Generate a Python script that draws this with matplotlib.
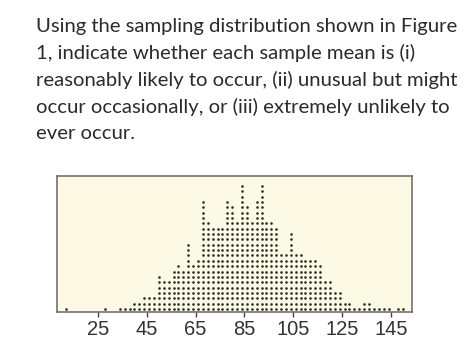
import matplotlib
matplotlib.use("Agg")
import matplotlib.pyplot as plt
import numpy as np

# Dotplot data: column value -> number of stacked dots
values = [12, 28, 34, 36, 38, 40, 42, 44, 46, 48, 50, 52, 54, 56, 58, 60, 62, 64, 66,
          68, 70, 72, 74, 76, 78, 80, 82, 84, 86, 88, 90, 92, 94, 96, 98, 100, 102,
          104, 106, 108, 110, 112, 114, 116, 118, 120, 122, 124, 126, 128, 130, 132,
          134, 136, 138, 140, 142, 144, 148, 150]
counts = [1, 1, 1, 1, 1, 2, 2, 3, 3, 3, 7, 6, 6, 8, 9, 8, 13, 9, 10,
          21, 17, 16, 16, 16, 21, 20, 17, 24, 20, 17, 21, 24, 17, 17, 16, 11, 11,
          15, 11, 11, 10, 10, 10, 9, 6, 6, 4, 4, 2, 2, 1, 1,
          2, 2, 1, 1, 1, 1, 1, 1]
tick_values = [25, 45, 65, 85, 105, 125, 145]

question = ("Using the sampling distribution shown in Figure\n"
            "1, indicate whether each sample mean is (i)\n"
            "reasonably likely to occur, (ii) unusual but might\n"
            "occur occasionally, or (iii) extremely unlikely to\n"
            "ever occur.")

fig = plt.figure(figsize=(4.74, 3.46), dpi=100)
fig.patch.set_facecolor("white")

fig.text(36 / 474, 1 - 18 / 346, question, ha="left", va="top",
         fontsize=14.6, family="Lato", color="#2b2b2b", linespacing=1.6)

ax = fig.add_axes([56.7 / 474, 34.5 / 346, (412.3 - 56.7) / 474, (311.5 - 176) / 346])
ax.set_facecolor("#FCF9E4")

xs, ys = [], []
for v, c in zip(values, counts):
    for k in range(c):
        xs.append(v)
        ys.append(k)
ax.plot(xs, ys, linestyle="none", marker="o", markersize=1.9,
        color="#2e2e2e", markeredgewidth=0)

ax.set_xlim(8.2, 153.7)
ax.set_ylim(-0.47, 24.86)
ax.set_yticks([])
ax.set_xticks(tick_values)
ax.set_xticklabels([str(t) for t in tick_values], family="Liberation Sans",
                   fontsize=14.5, color="#333333")
ax.tick_params(axis="x", direction="out", length=3.4, width=1.0, color="#444444", pad=2.5)
for s in ax.spines.values():
    s.set_color("#666666")
    s.set_linewidth(1.1)

fig.savefig("out.png", dpi=100)
